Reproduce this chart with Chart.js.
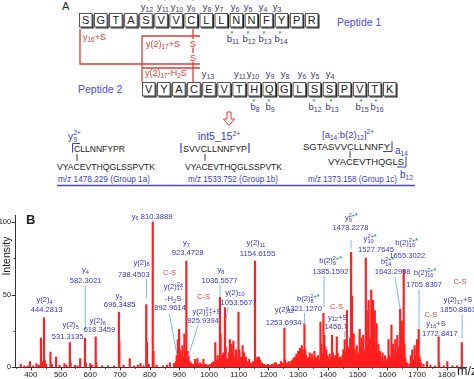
<!DOCTYPE html>
<html><head><meta charset="utf-8">
<script src="https://cdn.jsdelivr.net/npm/chart.js@4.4.1/dist/chart.umd.min.js"></script>
<style>
html,body{margin:0;padding:0;background:#fff;width:474px;height:379px;overflow:hidden;font-family:"Liberation Sans",Arial,sans-serif}
#a{position:absolute;left:0;top:0}
#wrap{position:absolute;left:0;top:200px;width:474px;height:179px}
.lbl{position:absolute;white-space:nowrap;color:#222}
</style></head><body>
<svg id="a" width="474" height="200" font-family="Liberation Sans, Arial, sans-serif"></svg>
<div id="wrap"><canvas id="c"></canvas></div>
<div class="lbl" style="left:26px;top:212px;font-size:13px;font-weight:bold">B</div>
<div class="lbl" style="left:-21px;top:250px;font-size:10.5px;transform:rotate(-90deg);width:54px;text-align:center">Intensity</div>
<div class="lbl" style="left:457px;top:364px;font-size:12.5px">m/z</div>
<script>
// ---------------- DATA ----------------
const peptide1 = "SGTASVVCLLNNFYPR";
const peptide2 = "VYACEVTHQGLSSPVTK";
// spectrum peaks [m/z, relative intensity]
const peaks350to800 = [[366,2],[378,1],[389,1],[397,4],[408,1],[419,2.5],[427,1.5],[434,20],[438,4],[444.28,34],[447,5],[452,2],[466,10.5],[471,2],[485,7],[497,1.5],[513,2.5],[520,1.5],[531.31,17],[534,3],[548,1.5],[557,1],[566,6],[582.30,20],[585,3],[600,2.5],[606,1.5],[618.35,21],[621,3],[640,1],[660,1],[680,1],[696.35,38],[698,18],[712,1.5],[733,6],[748,1],[760,1.5],[769,2.5],[779,1],[788.45,43],[791,17],[797,2]];
const peaks800to1100 = [[810.39,100],[813,11],[823,1.5],[845,1],[858,1.5],[868,3],[882,2.5],[888,4],[891,8],[895,19],[899,26],[902,12],[906,9],[910,15],[914,7],[917,23],[920,10],[923.47,73],[926,10],[928,11],[931,8],[935,4],[940,3],[946,2],[953,5.5],[957,3],[961,6],[966,2],[970,3],[975,2],[981,5.5],[986,2],[990,2],[997,1.5],[1004,2],[1010,3],[1015,4],[1021,17],[1025,5],[1029,8],[1033,5],[1036.56,48],[1039,23],[1042,6],[1045,8],[1048,10],[1053.57,41],[1056,14],[1060,5],[1064,6],[1067,10],[1070,19],[1073,7],[1076,16],[1079,9],[1082,18],[1085,6],[1088,8],[1091,12],[1094,5],[1099,38]];
const peaks1100to1400 = [[1102,12],[1105,6],[1108,7],[1111,4],[1113,15],[1116,6],[1118,10],[1121,4],[1124,7],[1127,3],[1130,4],[1135,5.5],[1140,3],[1144,2],[1148,4],[1151,3],[1154.62,73],[1158,6],[1161,4],[1163,7],[1166,3],[1168,7],[1172,5],[1175,2],[1178,3],[1182,2],[1185,2],[1192,1.5],[1198,2],[1205,1.5],[1212,2],[1216,1],[1220,3],[1226,3],[1230,1.5],[1235,2],[1239,1],[1242,4],[1245,2],[1248,3],[1253.69,27],[1256,5],[1259,2],[1262,3],[1265,2],[1268,4],[1271,2],[1275,4],[1278,3],[1280,5],[1282,3],[1284,6],[1286,4],[1288,7],[1291,5],[1292.5,3],[1294,9],[1296,4],[1297,8],[1299,5],[1300,11],[1302,6],[1303,9],[1305,4],[1306,13],[1308,6],[1309,10],[1311,5],[1312,15],[1314,7],[1315,12],[1317,5],[1318,9],[1321.13,30],[1324,12],[1326,5],[1327,8],[1329,4],[1331,6],[1333,3],[1335,7],[1337,4],[1339,10],[1341,4],[1343,6],[1345,3],[1347,9],[1349,4],[1351,5],[1353,3],[1355,11],[1357,4],[1359,7],[1361,3],[1363,6],[1365,4],[1367,8],[1369,3],[1371,5],[1373,4],[1375,31],[1378,16],[1381,9],[1383,5],[1385.16,37],[1388,22],[1391,14],[1393,6],[1395,12],[1398,8]];
const peaks1400to1600 = [[1400,5],[1402,6],[1404,4],[1406,9],[1408,4],[1410,5],[1412,3],[1414,22],[1417,10],[1419,4],[1421,6],[1423,4],[1425,8],[1427,5],[1430,21],[1433,10],[1435,5],[1437,6],[1439,4],[1441,7],[1443,5],[1445,5],[1447,3],[1449,8],[1452,12],[1454,6],[1456.7,19],[1458,7],[1460,10],[1462,6],[1464,39],[1466,9],[1467,14],[1469,8],[1471,12],[1473,7],[1475,20],[1476.5,9],[1478.23,79],[1481,49],[1482.5,10],[1484,18],[1486,8],[1487,23],[1489,9],[1490,12],[1492,6],[1493,9],[1495,5],[1497,15],[1499,6],[1500,7],[1502,5],[1503,10],[1505,6],[1507,26],[1508.5,8],[1510,14],[1511.5,7],[1513,20],[1514.5,8],[1516,9],[1517.5,6],[1519,22],[1520.5,9],[1522,12],[1524,8],[1525.5,11],[1527.76,75],[1529.5,12],[1531,39],[1532.5,10],[1534,15],[1535.5,9],[1537,46],[1538.5,11],[1540,20],[1541.5,9],[1543,12],[1544.5,8],[1546,53],[1547.5,10],[1549,22],[1550.5,9],[1552,46],[1553.5,11],[1555,18],[1556.5,9],[1558,39],[1559.5,8],[1561,14],[1562.5,7],[1564,30],[1565.5,7],[1567,10],[1568.5,6],[1570,16],[1571.5,5],[1573,8],[1574.5,4],[1576,11],[1578,5],[1580,6],[1582,4],[1584,10],[1586,4],[1588,5],[1590,3],[1592,8],[1594,3],[1596,4],[1598,3]];
const peaks1600to1870 = [[1600,6],[1602,4],[1604,19],[1606,6],[1607,8],[1609,5],[1611,6],[1612.5,4],[1614,29],[1615.5,7],[1617,12],[1618.5,5],[1620,16],[1621.5,6],[1623,8],[1625,5],[1627,19],[1628.5,7],[1630,10],[1632,6],[1634,22],[1635.5,7],[1637,9],[1638.5,6],[1640,14],[1641.5,8],[1643.30,40],[1645,9],[1646,15],[1647.5,7],[1649,32],[1650.5,8],[1652,12],[1653.5,7],[1655.30,67],[1657,9],[1658,16],[1660,5],[1661,6],[1664,3],[1668,3],[1675,2],[1679,8],[1681,3],[1684,12],[1686,4],[1689,5],[1692,15],[1694,4],[1697,8],[1700,19],[1702,5],[1705.83,26],[1707.5,6],[1709,7],[1714,3],[1722,2],[1734,4],[1745,1.5],[1760,1],[1772.84,21],[1775,3],[1790,1],[1802,4],[1820,1],[1835,1],[1850.89,17]];
const xTickValues = [400,500,600,700,800,900,1000,1100,1200,1300,1400,1500,1600,1700,1800];
const yTickValues = [0,50,100];
// peak annotations: [m/z anchor, intensity anchor, text, isRed]
const peakLabels = [
 [808,103.3,'y_{6} 810.3889'],
 [584,66.8,'y_{4}'],[584,59.5,'582.3021'],
 [446,46.2,'y(2)_{4}'],[453,39.4,'444.2813'],
 [534,29,'y(2)_{5}'],[524,20.8,'531.3135'],
 [625,31.8,'y(2)_{6}'],[631,25.6,'618.3459'],
 [697,49,'y_{5}'],[699,42.8,'696.3485'],
 [773,71.7,'y(2)_{8}'],[747,63.4,'788.4503'],
 [924,85.4,'y_{7}'],[928,78.5,'923.4728'],
 [867,64.8,'C-S',1],[880,55.2,'y(2)_{17}^{2+}'],[879,46.9,'-H_{2}S'],[869,40.7,'892.9614'],
 [981,48.3,'C-S',1],[993,38,'y(2)_{17}^{2+}+S'],[980,31.8,'925.9394'],
 [1040,66.8,'y_{8}'],[1035,59.3,'1036.5577'],
 [1087,51.4,'y(2)_{10}'],[1099,44.2,'1053.5677'],
 [1158,85.4,'y(2)_{11}'],[1163,77.8,'1154.6155'],
 [1254,39.4,'y(2)_{12}'],[1251,30.4,'1253.6934'],
 [1334,46.9,'b(2)_{8}^{2+}*'],[1320,40,'1321.1270'],
 [1409,73,'b(2)_{9}^{2+}*'],[1409,65.5,'1385.1592'],
 [1429,41.4,'C-S',1],[1433,33.9,'y_{12}+S'],[1428,27.7,'1456.7'],
 [1479,102.5,'y_{9}^{2+}*'],[1476,95.7,'1478.2278'],
 [1542,87.9,'y_{10}^{2+}*'],[1562,80.3,'1527.7645'],
 [1665,85.4,'b(2)_{15}^{2+}*'],[1667,76.4,'1655.3022'],
 [1601,72.3,'b_{14}^{2+}*'],[1618,65.5,'1643.2998'],
 [1727,64.8,'b(2)_{16}^{2+}*'],[1724,56.5,'1705.8307'],
 [1747,35.9,'C-S',1],[1764,29.7,'y_{16}+S'],[1777,22.9,'1772.8417'],
 [1845,58.6,'C-S',1],[1838,46.2,'y(2)_{17}+S'],[1838,39.4,'1850.8861']
];
// leader lines [mz1,int1,mz2,int2]
const leaderLines = [[583,55.8,583,25.6],[789,60.6,789,47.6],[866,37.2,892,8.4],[963,29,929,7],[1037,56.5,1037,48.3],[1064,41.4,1057,32.5],[1321,37.3,1321,29],[1387,62.7,1387,41.4],[1478,87.4,1478,82],[1457,25,1457,20.5],[1626,62,1643,40.7],[1707,53.8,1707,27],[1852,35.9,1852,20.1]];

// ---------------- PANEL A (SVG) ----------------
const NS='http://www.w3.org/2000/svg';
const svg=document.getElementById('a');
function el(tag,attrs,txt,parent){const e=document.createElementNS(NS,tag);for(const k in attrs)e.setAttribute(k,attrs[k]);if(txt!=null)e.textContent=txt;(parent||svg).appendChild(e);return e;}
function rich(x,y,parts,attrs){ // parts: [text, dy, size]
  const t=el('text',Object.assign({x:x,y:y},attrs));
  let cur=0;
  parts.forEach(p=>{const dy=(p[1]||0)-cur;cur=p[1]||0;const s=el('tspan',{dy:dy},p[0],t);if(p[2])s.setAttribute('font-size',p[2]);if(p[3])s.setAttribute('fill',p[3]);});
  return t;
}
const RED='#e53935', BLUEA='#3a3ac4', PEPBLUE='#4b4be6', ION='#3b3b6e', GREEN='#35a865';
function drawPeptide(seq,x0,y0){
  for(let i=0;i<seq.length;i++){
    const x=x0+i*15.06;
    el('polyline',{points:`${x+13.9},${y0+1.6} ${x+13.9},${y0+14.9} ${x+1.6},${y0+14.9}`,fill:'none',stroke:'#222','stroke-width':1.4});
    el('rect',{x:x+0.5,y:y0+0.5,width:12.5,height:13.4,fill:'#fff',stroke:'#444','stroke-width':0.9});
    el('text',{x:x+6.75,y:y0+11.3,'text-anchor':'middle','font-size':11,fill:'#222'},seq[i]);
  }
}
el('text',{x:62,y:10,'font-size':11,fill:'#222'},'A');
drawPeptide(peptide1,79,13);
drawPeptide(peptide2,142,82);
el('text',{x:337,y:26,'font-size':10.5,fill:PEPBLUE},'Peptide 1');
el('text',{x:78,y:93,'font-size':10.5,fill:PEPBLUE},'Peptide 2');
function ion(letter,num,cx,base,star,pos){
  rich(cx,base,[[letter,0],[String(num),2,7]],{'text-anchor':'middle','font-size':9.5,fill:ION});
  if(star){ if(pos==='b') el('text',{x:cx-1.2,y:base-5.2,'font-size':7,'font-weight':'bold',fill:GREEN,'text-anchor':'middle'},'*');
            else el('text',{x:cx+2,y:base-6.8,'font-size':7,'font-weight':'bold',fill:GREEN,'text-anchor':'middle'},'*'); }
}
[[12,147,1],[11,163,1],[10,177,1],[9,191,1],[8,207],[7,219],[6,235],[5,248],[4,263],[3,277]].forEach(a=>ion('y',a[0],a[1],9.5,a[2],'y'));
[[11,233],[12,249],[13,265],[14,281]].forEach(a=>ion('b',a[0],a[1],41.5,1,'b'));
[[13,208],[11,240],[10,253],[9,270],[8,285],[6,302],[5,315],[4,330]].forEach(a=>ion('y',a[0],a[1],77,0,'y'));
[[8,255],[9,270],[12,315],[13,332],[15,362],[16,377]].forEach(a=>ion('b',a[0],a[1],109.5,1,'b'));
// crosslink lines
const g=el('g',{stroke:RED,'stroke-width':1.3,fill:'none'});
el('polyline',{points:'80,29 80,64 200,64'},null,g);
el('polyline',{points:'200,36 142,36 142,82'},null,g);
el('line',{x1:142,y1:68,x2:200,y2:68},null,g);
el('line',{x1:193,y1:29,x2:193,y2:39},null,g);
el('line',{x1:193,y1:47.5,x2:193,y2:53},null,g);
el('line',{x1:193,y1:61.5,x2:193,y2:82},null,g);
el('text',{x:193,y:46.5,'text-anchor':'middle','font-size':9,fill:RED},'S');
el('text',{x:193,y:60.5,'text-anchor':'middle','font-size':9,fill:RED},'S');
rich(83,40,[['y',0],['16',2,6.5],['+S',0]],{'font-size':9,fill:RED});
rich(146,47,[['y(2)',0],['17',2,6.5],['+S',0]],{'font-size':9,fill:RED});
rich(145,76,[['y(2)',0],['17',2,6.5],['-H',0],['2',2,6.5],['S',0]],{'font-size':9,fill:RED});
// arrow
el('path',{d:'M227,112 L231,112 L231,119 L234.5,119 L229,125.5 L223.5,119 L227,119 Z',fill:'#fff',stroke:RED,'stroke-width':1});
// group 1a
el('text',{x:68,y:139.5,'font-size':10,fill:BLUEA},'y');
el('text',{x:73.5,y:141.5,'font-size':6.5,fill:BLUEA},'9');
el('text',{x:73.5,y:134.5,'font-size':6.5,fill:BLUEA},'2+');
el('path',{d:'M80,143.5 L72.5,143.5 L72.5,152.5',fill:'none',stroke:BLUEA,'stroke-width':1});
el('text',{x:74,y:151.5,'font-size':9.5,fill:'#222',textLength:51,lengthAdjust:'spacingAndGlyphs'},'CLLNNFYPR');
el('line',{x1:77,y1:154,x2:77,y2:161,stroke:'#222','stroke-width':0.9});
el('text',{x:57,y:170,'font-size':9.5,fill:'#222',textLength:98,lengthAdjust:'spacingAndGlyphs'},'VYACEVTHQGLSSPVTK');
el('text',{x:58,y:181.5,'font-size':8.5,fill:BLUEA,textLength:92,lengthAdjust:'spacingAndGlyphs'},'m/z 1478.229 (Group 1a)');
// group 1b
rich(198,140,[['int5_15',0],['2+',-4,7]],{'font-size':10.5,fill:BLUEA});
el('line',{x1:181,y1:143,x2:181,y2:153,stroke:BLUEA,'stroke-width':1.2});
el('line',{x1:249,y1:143,x2:249,y2:153,stroke:BLUEA,'stroke-width':1.2});
el('text',{x:183,y:151.5,'font-size':9.5,fill:'#222',textLength:64,lengthAdjust:'spacingAndGlyphs'},'SVVCLLNNFYP');
el('line',{x1:205,y1:154,x2:205,y2:161,stroke:'#222','stroke-width':0.9});
el('text',{x:185,y:170,'font-size':9.5,fill:'#222',textLength:97,lengthAdjust:'spacingAndGlyphs'},'VYACEVTHQGLSSPVTK');
el('text',{x:188,y:181.5,'font-size':8.5,fill:BLUEA,textLength:90,lengthAdjust:'spacingAndGlyphs'},'m/z 1533.752 (Group 1b)');
// group 1c
rich(322,137.5,[['[a',0],['14',2,6.5],[':b(2)',0],['12',2,6.5],[']',0],['2+',-4,6.5]],{'font-size':9.5,fill:BLUEA});
el('text',{x:303,y:149.5,'font-size':9.5,fill:'#222',textLength:87,lengthAdjust:'spacingAndGlyphs'},'SGTASVVCLLNNFY');
el('path',{d:'M383,151.5 L392,151.5 L392,141',fill:'none',stroke:BLUEA,'stroke-width':1});
rich(395,154,[['a',0],['14',2,6.5]],{'font-size':10,fill:BLUEA});
el('line',{x1:350,y1:151,x2:350,y2:158,stroke:'#222','stroke-width':0.9});
el('text',{x:328,y:165,'font-size':9.5,fill:'#222',textLength:76,lengthAdjust:'spacingAndGlyphs'},'VYACEVTHQGLS');
el('path',{d:'M397,167 L406,167 L406,156.5',fill:'none',stroke:BLUEA,'stroke-width':1});
rich(400,177.5,[['b',0],['12',2,6.5]],{'font-size':10,fill:BLUEA});
el('text',{x:308,y:182,'font-size':8.5,fill:BLUEA,textLength:89,lengthAdjust:'spacingAndGlyphs'},'m/z 1373.158 (Group 1c)');
el('line',{x1:57,y1:185.5,x2:415,y2:185.5,stroke:'#4646d0','stroke-width':1.3});

// ---------------- PANEL B (Chart.js) ----------------
const allPeaks=[].concat(peaks350to800,peaks800to1100,peaks1100to1400,peaks1400to1600,peaks1600to1870);
const BLUE='#3636c8', REDB='#e8413c';
const FONT='"Liberation Sans", Arial, sans-serif';
function drawRich(ctx,cx,cy,s,color){
  const toks=[];let i=0;
  while(i<s.length){
    if(s[i]==='_'||s[i]==='^'){const j=s.indexOf('}',i);toks.push({k:s[i],t:s.slice(i+2,j)});i=j+1;}
    else if(s[i]==='*'){toks.push({k:'*',t:'*'});i++;}
    else{let j=i;while(j<s.length&&'_^*'.indexOf(s[j])<0)j++;toks.push({k:'n',t:s.slice(i,j)});i=j;}
  }
  const F=7.6,f=5.6;const items=[];let x=0,prevSub=null;
  toks.forEach(tk=>{
    let font,dy=0,col=color,w;
    if(tk.k==='n'){font=F+'px '+FONT;}
    else if(tk.k==='_'){font=f+'px '+FONT;dy=2;}
    else if(tk.k==='^'){font=f+'px '+FONT;dy=-2.6;}
    else {font='bold 7px '+FONT;dy=-2.4;col='#2fa866';}
    ctx.font=font;w=ctx.measureText(tk.t).width;
    if(tk.k==='^'&&prevSub){items.push({x:prevSub.x,dy,font,col,t:tk.t});x=prevSub.x+Math.max(prevSub.w,w);prevSub=null;return;}
    items.push({x,dy,font,col,t:tk.t});
    prevSub = tk.k==='_'?{x,w}:null;
    x+=w;
  });
  const x0=cx-x/2;
  ctx.textBaseline='middle';ctx.textAlign='left';
  items.forEach(it=>{ctx.font=it.font;ctx.fillStyle=it.col;ctx.fillText(it.t,x0+it.x,cy+it.dy);});
}
const annoPlugin={id:'anno',afterDraw(chart){
  const ctx=chart.ctx,xs=chart.scales.x,ys=chart.scales.y;
  ctx.save();
  ctx.strokeStyle='#333';ctx.lineWidth=1;ctx.beginPath();
  [0,25,50,75,100].forEach(v=>{const py=Math.round(ys.getPixelForValue(v))+0.5;const len=v%50===0?4:2;ctx.moveTo(xs.left-len,py);ctx.lineTo(xs.left,py);});
  for(let v=350;v<=1850;v+=50){const px=Math.round(xs.getPixelForValue(v))+0.5;const len=v%100===0?3:1.5;ctx.moveTo(px,ys.bottom);ctx.lineTo(px,ys.bottom+len);}
  ctx.stroke();
  ctx.strokeStyle='#78bde3';ctx.lineWidth=1;
  leaderLines.forEach(l=>{ctx.beginPath();ctx.moveTo(xs.getPixelForValue(l[0]),ys.getPixelForValue(l[1]));ctx.lineTo(xs.getPixelForValue(l[2]),ys.getPixelForValue(l[3]));ctx.stroke();});
  peakLabels.forEach(l=>drawRich(ctx,xs.getPixelForValue(l[0]),ys.getPixelForValue(l[1]),l[2],l[3]?REDB:BLUE));
  ctx.restore();
}};
new Chart(document.getElementById('c'),{
  type:'bar',
  data:{datasets:[{data:allPeaks.map(p=>({x:p[0],y:p[1]})),backgroundColor:'#ff1f1f',borderWidth:0,barThickness:1.5,grouped:false}]},
  options:{
    responsive:true,maintainAspectRatio:false,animation:false,
    layout:{padding:{top:15.9,right:8,left:0,bottom:0}},
    plugins:{legend:{display:false},tooltip:{enabled:false}},
    scales:{
      x:{type:'linear',min:349,max:1865,offset:false,
         grid:{display:false,drawTicks:false},border:{display:true,color:'#333',width:1},
         afterBuildTicks:s=>{s.ticks=xTickValues.map(v=>({value:v}));},
         afterFit:s=>{s.height=11.7;},
         ticks:{autoSkip:false,maxRotation:0,padding:2.5,color:'#222',font:{size:8,family:FONT},callback:v=>String(v)}},
      y:{min:0,max:104,
         grid:{display:false,drawTicks:false},border:{display:true,color:'#333',width:1},
         afterBuildTicks:s=>{s.ticks=yTickValues.map(v=>({value:v}));},
         afterFit:s=>{s.width=15.7;},
         ticks:{padding:4.5,color:'#222',font:{size:7.5,family:FONT},callback:v=>String(v)}}
    }
  },
  plugins:[annoPlugin]
});
</script>
</body></html>
